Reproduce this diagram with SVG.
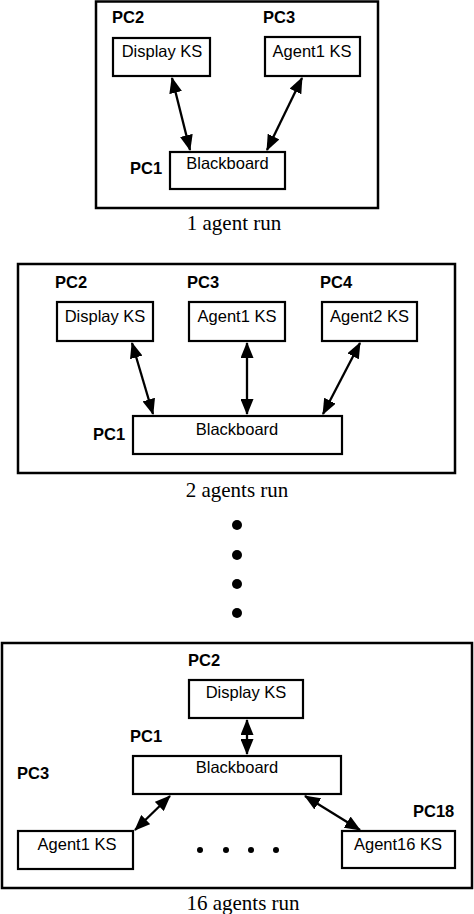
<svg xmlns="http://www.w3.org/2000/svg" width="474" height="914" viewBox="0 0 474 914">
<style>
.frame{fill:#fff;stroke:#000;stroke-width:2.5}
.box{fill:#fff;stroke:#000;stroke-width:2.2}
.t{font-family:"Liberation Sans",Arial,sans-serif;font-size:16.5px;fill:#000;text-anchor:middle}
.pc{font-family:"Liberation Sans",Arial,sans-serif;font-size:16.5px;font-weight:bold;fill:#000}
.cap{font-family:"Liberation Serif","Times New Roman",serif;font-size:21px;fill:#000;text-anchor:middle}
.arr{stroke:#000;stroke-width:2.3;fill:none;marker-start:url(#ah);marker-end:url(#ah)}
</style>
<defs>
<marker id="ah" markerUnits="userSpaceOnUse" markerWidth="16" markerHeight="13" refX="15" refY="6.5" orient="auto-start-reverse">
<path d="M0,0 L16,6.5 L0,13 z" fill="#000"/>
</marker>
</defs>
<rect width="474" height="914" fill="#fff"/>

<!-- Panel 1 -->
<g id="panel1">
<rect class="frame" x="96" y="1.5" width="282" height="206.5"/>
<text class="cap" x="234" y="230">1 agent run</text>
</g>
<g id="p1-display"><text class="pc" x="112" y="23">PC2</text><rect class="box" x="113" y="38" width="97" height="38"/><text class="t" x="162" y="57">Display KS</text></g>
<g id="p1-agent1"><text class="pc" x="263" y="23">PC3</text><rect class="box" x="265" y="37" width="95" height="39"/><text class="t" x="312" y="57">Agent1 KS</text></g>
<g id="p1-blackboard"><text class="pc" x="130" y="174">PC1</text><rect class="box" x="170" y="152" width="115" height="37"/><text class="t" x="227.5" y="169">Blackboard</text></g>
<g id="p1-connectors">
<line class="arr" x1="172" y1="78" x2="190" y2="150"/>
<line class="arr" x1="302" y1="78" x2="267" y2="150"/>
</g>

<!-- Panel 2 -->
<g id="panel2">
<rect class="frame" x="18" y="264" width="437" height="209"/>
<text class="cap" x="237" y="497">2 agents run</text>
</g>
<g id="p2-display"><text class="pc" x="55" y="288">PC2</text><rect class="box" x="57" y="302" width="96" height="39"/><text class="t" x="105" y="322">Display KS</text></g>
<g id="p2-agent1"><text class="pc" x="187" y="288">PC3</text><rect class="box" x="189" y="302" width="96" height="39"/><text class="t" x="237" y="322">Agent1 KS</text></g>
<g id="p2-agent2"><text class="pc" x="320" y="288">PC4</text><rect class="box" x="322" y="302" width="95" height="39"/><text class="t" x="369.5" y="322">Agent2 KS</text></g>
<g id="p2-blackboard"><text class="pc" x="93" y="440">PC1</text><rect class="box" x="133" y="416" width="209" height="38"/><text class="t" x="237" y="435">Blackboard</text></g>
<g id="p2-connectors">
<line class="arr" x1="132" y1="343" x2="153" y2="414"/>
<line class="arr" x1="247" y1="343" x2="247" y2="414"/>
<line class="arr" x1="360" y1="343" x2="323" y2="414"/>
</g>

<!-- Ellipsis -->
<g id="ellipsis">
<circle cx="237" cy="525" r="5"/>
<circle cx="237" cy="555" r="5"/>
<circle cx="237" cy="584" r="5"/>
<circle cx="237" cy="613" r="5"/>
</g>

<!-- Panel 3 -->
<g id="panel3">
<rect class="frame" x="2" y="643" width="470" height="245"/>
<text class="cap" x="243" y="910">16 agents run</text>
<circle cx="200" cy="850" r="3"/>
<circle cx="226" cy="850" r="3"/>
<circle cx="251" cy="850" r="3"/>
<circle cx="276" cy="850" r="3"/>
</g>
<g id="p3-display"><text class="pc" x="188" y="666">PC2</text><rect class="box" x="189" y="680" width="114" height="38"/><text class="t" x="246" y="698">Display KS</text></g>
<g id="p3-blackboard"><text class="pc" x="130" y="742">PC1</text><rect class="box" x="133" y="756" width="208" height="38"/><text class="t" x="237" y="773">Blackboard</text></g>
<g id="p3-agent1"><text class="pc" x="17" y="779">PC3</text><rect class="box" x="18" y="831" width="115" height="38"/><text class="t" x="77" y="850">Agent1 KS</text></g>
<g id="p3-agent16"><text class="pc" x="413" y="817">PC18</text><rect class="box" x="342" y="831" width="113" height="37"/><text class="t" x="398" y="850">Agent16 KS</text></g>
<g id="p3-connectors">
<line class="arr" x1="247" y1="720" x2="247" y2="754"/>
<line class="arr" x1="135" y1="830" x2="170" y2="796"/>
<line class="arr" x1="305" y1="796" x2="360" y2="830"/>
</g>
</svg>
